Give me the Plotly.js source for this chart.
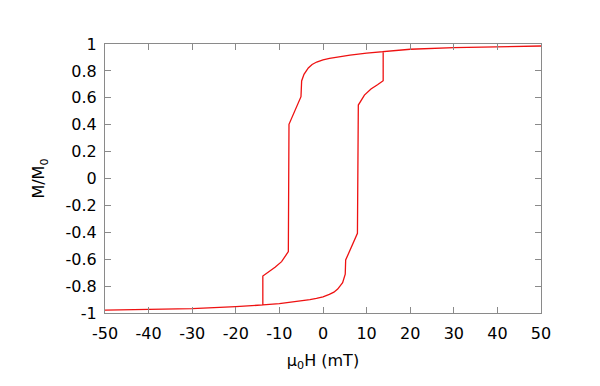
<!DOCTYPE html>
<html>
<head>
<meta charset="utf-8">
<script src="https://cdn.plot.ly/plotly-3.0.1.min.js"></script>
<style>html,body{margin:0;padding:0;background:#fff;}#chart{width:600px;height:386px;}</style>
</head>
<body>
<div id="chart"></div>
<script>
// Descending branch (H from +50 to -50)
const hDown = [50, 40, 30, 20, 17.7, 13.8, 10, 6.2, 3, 1.5, 0, -1.45, -2.5, -3.37, -4.36, -4.9, -5.05, -7.8, -7.95, -9.5, -11.0, -12.55, -13.8, -13.8, -16.7, -20, -30, -40, -50];
const mDown = [0.985, 0.98, 0.973, 0.961, 0.955, 0.943, 0.932, 0.917, 0.902, 0.893, 0.882, 0.866, 0.848, 0.822, 0.775, 0.725, 0.608, 0.403, -0.544, -0.618, -0.66, -0.693, -0.725, -0.94, -0.948, -0.953, -0.968, -0.975, -0.978];
// Ascending branch (H from -50 to +50)
const hUp = [-50, -40, -30, -20, -16.7, -13.8, -10, -6.2, -3, -1.5, 0, 1.45, 2.5, 3.37, 4.5, 5.1, 5.2, 7.9, 8.1, 9.5, 11.0, 12.5, 13.8, 13.8, 17.7, 20, 30, 40, 50];
const mUp = [-0.978, -0.975, -0.968, -0.953, -0.948, -0.94, -0.93, -0.916, -0.9, -0.891, -0.88, -0.862, -0.845, -0.822, -0.775, -0.712, -0.606, -0.408, 0.546, 0.62, 0.665, 0.697, 0.727, 0.943, 0.955, 0.961, 0.973, 0.98, 0.985];

const xTicks = [-50, -40, -30, -20, -10, 0, 10, 20, 30, 40, 50];
const yTicks = [-1, -0.8, -0.6, -0.4, -0.2, 0, 0.2, 0.4, 0.6, 0.8, 1];

const trace = {
  x: hDown.concat(hUp),
  y: mDown.concat(mUp),
  type: 'scatter',
  mode: 'lines',
  line: {color: '#ee1111', width: 1.3, shape: 'linear'},
  hoverinfo: 'none'
};

const font = {family: 'DejaVu Sans, sans-serif', size: 16, color: '#000'};
const axisCommon = {
  showgrid: false,
  zeroline: false,
  showline: true,
  linecolor: '#8a8a8a',
  linewidth: 1,
  mirror: 'allticks',
  ticks: 'inside',
  ticklen: 6,
  tickcolor: '#8a8a8a',
  tickwidth: 1,
  tickfont: font
};

const layout = {
  width: 600,
  height: 386,
  margin: {l: 105, r: 59, t: 44, b: 73},
  paper_bgcolor: '#fff',
  plot_bgcolor: '#fff',
  showlegend: false,
  font: font,
  xaxis: Object.assign({}, axisCommon, {
    range: [-50, 50],
    tickvals: xTicks,
    ticktext: xTicks.map(String),
    ticklabelstandoff: 6,
    title: {text: 'μ<sub>0</sub>H (mT)', font: font, standoff: 12}
  }),
  yaxis: Object.assign({}, axisCommon, {
    range: [-1, 1],
    tickvals: yTicks,
    ticktext: yTicks.map(String),
    ticklabelstandoff: 4,
    title: {text: 'M/M<sub>0</sub>', font: font, standoff: 16}
  })
};

Plotly.newPlot('chart', [trace], layout, {displayModeBar: false, staticPlot: true});
</script>
</body>
</html>
